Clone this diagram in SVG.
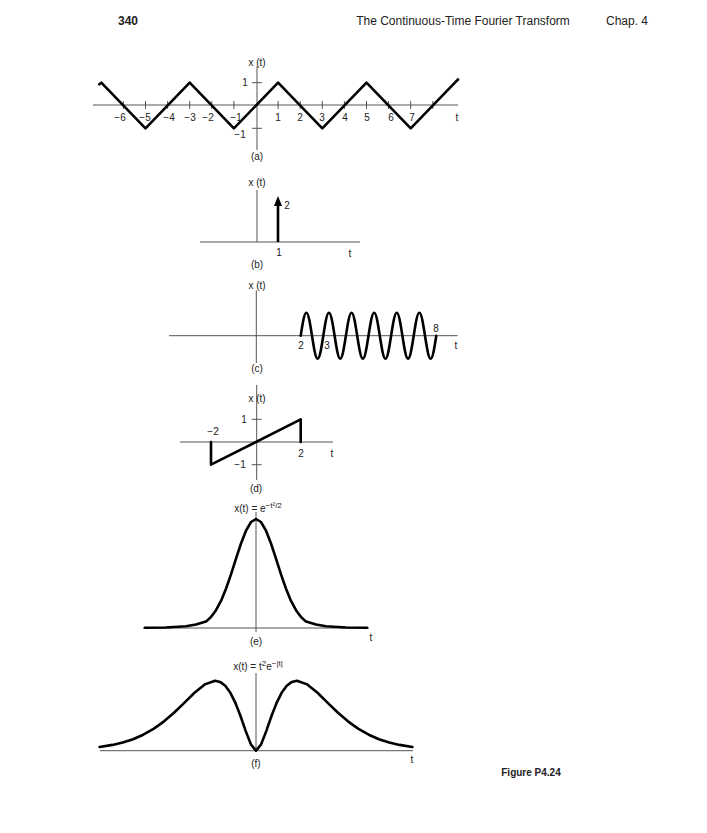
<svg xmlns="http://www.w3.org/2000/svg" width="707" height="833" viewBox="0 0 707 833">
<style>
text{font-family:"Liberation Sans",Arial,sans-serif;font-size:10px;fill:#222}
.m{text-anchor:middle}
.ax{stroke:#555;stroke-width:1;fill:none}
.cv{stroke:#000;stroke-width:2.6;fill:none;stroke-linejoin:round;stroke-linecap:round}
.hd{font-size:12px}
.sp{font-size:8px}
</style>
<rect width="707" height="833" fill="#fff"/>
<text x="118" y="25" class="hd" font-weight="bold">340</text>
<text x="463" y="25" class="hd m">The Continuous-Time Fourier Transform</text>
<text x="627" y="25" class="hd m">Chap. 4</text>
<text x="531" y="776" class="m" font-weight="bold" font-size="12.5">Figure P4.24</text>

<g id="plot-a">
<path class="ax" d="M93 105H458M257 66V150M252 82.7H262M252 128.3H262"/>
<path class="ax" d="M123.4 101V109M145.5 101V109M167.6 101V109M189.7 101V109M211.8 101V109M233.9 101V109M278.1 101V109M300.2 101V109M322.3 101V109M344.4 101V109M366.5 101V109M388.6 101V109M410.7 101V109M432.8 101V109"/>
<polyline class="cv" points="99.3,84.3 101.3,82.7 145.5,128.3 189.7,82.7 233.9,128.3 278.1,82.7 322.3,128.3 366.5,82.7 410.7,128.3 454.9,82.7 458,79.5"/>
<text x="257" y="66" class="m">x (t)</text>
<text x="245" y="86" class="m">1</text>
<text x="240" y="138" class="m">−1</text>
<text x="120" y="121" class="m">−6</text><text x="145" y="121" class="m">−5</text><text x="169" y="121" class="m">−4</text><text x="190" y="121" class="m">−3</text><text x="208" y="121" class="m">−2</text><text x="236" y="121" class="m">−1</text>
<text x="278" y="121" class="m">1</text><text x="300" y="121" class="m">2</text><text x="322" y="121" class="m">3</text><text x="345" y="121" class="m">4</text><text x="367" y="121" class="m">5</text><text x="391" y="121" class="m">6</text><text x="412" y="121" class="m">7</text><text x="457" y="121" class="m">t</text>
<text x="257" y="160" class="m">(a)</text>
</g>

<g id="plot-b">
<path class="ax" d="M200 242H360M257 190V242"/>
<path d="M278 242V204" stroke="#000" stroke-width="2.6"/>
<path d="M278 196L274 206H282Z" fill="#000"/>
<text x="257" y="186" class="m">x (t)</text>
<text x="287" y="209" class="m">2</text>
<text x="279" y="256" class="m">1</text>
<text x="350" y="257" class="m">t</text>
<text x="257" y="268" class="m">(b)</text>
</g>

<g id="plot-c">
<path class="ax" d="M169 335.7H457.7M256.3 290.7V363"/>
<path class="cv" d="M300.7 335.7c1.843,-11.8 3.605,-23 5.65,-23
s3.807,11.2 5.65,23s3.605,23 5.65,23s3.807,-11.2 5.65,-23s3.605,-23 5.65,-23
s3.807,11.2 5.65,23s3.605,23 5.65,23s3.807,-11.2 5.65,-23s3.605,-23 5.65,-23
s3.807,11.2 5.65,23s3.605,23 5.65,23s3.807,-11.2 5.65,-23s3.605,-23 5.65,-23
s3.807,11.2 5.65,23s3.605,23 5.65,23s3.807,-11.2 5.65,-23s3.605,-23 5.65,-23
s3.807,11.2 5.65,23s3.605,23 5.65,23s3.807,-11.2 5.65,-23s3.605,-23 5.65,-23
s3.807,11.2 5.65,23s3.605,23 5.65,23s3.807,-11.2 5.65,-23"/>
<text x="257" y="289" class="m">x (t)</text>
<text x="301" y="349" class="m">2</text>
<text x="327" y="349" class="m">3</text>
<text x="436" y="332" class="m">8</text>
<text x="456" y="349" class="m">t</text>
<text x="257" y="372" class="m">(c)</text>
</g>

<g id="plot-d">
<path class="ax" d="M180 442H333M256.7 385V480M251.7 419.3H261.7M251.7 464.7H261.7"/>
<polyline class="cv" points="211,442 211,464.7 300.7,419.3 300.7,442"/>
<text x="257" y="402" class="m">x (t)</text>
<text x="244" y="423" class="m">1</text>
<text x="213" y="435" class="m">−2</text>
<text x="240" y="468" class="m">−1</text>
<text x="301" y="457" class="m">2</text>
<text x="332" y="457" class="m">t</text>
<text x="256" y="492" class="m">(d)</text>
</g>

<g id="plot-e">
<path class="ax" d="M143 628H369M256 512V632"/>
<polyline class="cv" points="145,627.8 166,627.5 186,626.2 196,624.5 206,621.6 211,617 216,610.2 221,600.9 226,588.8 231,574.4 236,558.7 241,543.5 246,530.7 251,522 256,519 261,522 266,530.7 271,543.5 276,558.7 281,574.4 286,588.8 291,600.9 296,610.2 301,617 306,621.6 316,624.5 326,626.2 346,627.5 367,627.8"/>
<text x="258" y="512" class="m">x(t) = e<tspan dy="-4" class="sp">−t²/2</tspan></text>
<text x="371" y="641" class="m">t</text>
<text x="256" y="645" class="m">(e)</text>
</g>

<g id="plot-f">
<path class="ax" d="M100 750.7H413M256 673V752"/>
<polyline class="cv" points="99.6,747 112.5,744.9 122.75,742.5 133,739.2 143.25,734.7 153.5,728.9 163.75,721.6 174,712.8 184.25,702.9 194.5,692.8 204.75,684.4 215,680.7 220.1,681.9 225.25,685.8 230.4,692.8 235.5,703.1 240.6,716.3 245.75,731.1 250.9,744.4 256,750.7 261.1,744.4 266.25,731.1 271.4,716.3 276.5,703.1 281.6,692.8 286.75,685.8 291.9,681.9 297,680.7 307.25,684.4 317.5,692.8 327.75,702.9 338,712.8 348.25,721.6 358.5,728.9 368.75,734.7 379,739.2 389.25,742.5 399.5,744.9 412.4,747"/>
<text x="258" y="670" class="m">x(t) = t<tspan dy="-4" class="sp">2</tspan><tspan dy="4">e</tspan><tspan dy="-4" class="sp">−|t|</tspan></text>
<text x="412" y="763" class="m">t</text>
<text x="256" y="767" class="m">(f)</text>
</g>
</svg>
